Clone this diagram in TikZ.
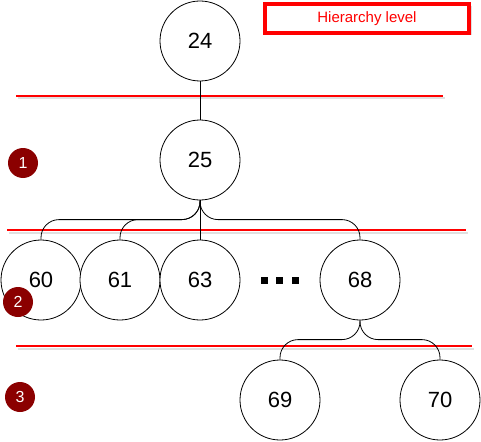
\documentclass[tikz,border=0pt]{standalone}
\usepackage{fontspec}
\setmainfont{Liberation Sans}
\usetikzlibrary{shadows}
\definecolor{levelred}{RGB}{139,0,0}

\begin{document}
\begin{tikzpicture}[
    x=1pt, y=-1pt,
    item/.style={circle, draw, fill=white, line width=0.8pt, minimum size=80pt, inner sep=0pt, font=\fontsize{22}{26}\selectfont},
    badge/.style={circle, fill=levelred, minimum size=30pt, inner sep=0pt, text=white, font=\fontsize{16}{19}\selectfont},
    sq/.style={rectangle, fill=black, minimum size=7pt, inner sep=0pt},
    level/.style={red, line width=1.8pt},
    shade/.style={black!12, line width=2pt},
    link/.style={line width=0.8pt, rounded corners=18pt}
]
\useasboundingbox (0,0) rectangle (481,441);

% Level separators (with shadow)
\foreach \y/\a/\b in {96/16/443, 230/7/466, 346/16/472} {
    \draw[shade] (\a+2,\y+2.5) -- (\b+2,\y+2.5);
    \draw[level] (\a,\y) -- (\b,\y);
}

% Tree nodes
\node[item] (n24) at (200,41) {24};
\node[item] (n25) at (200,160) {25};
\foreach \x/\n in {41/60, 120/61, 200/63, 360/68} {
    \node[item] (n\n) at (\x,280) {\n};
}
\node[item] (n69) at (280,400) {69};
\node[item] (n70) at (440,400) {70};

% Ellipsis between 63 and 68
\foreach \x [count=\i] in {264,279,295} {
    \node[sq] (dot\i) at (\x,280) {};
}

% Links
\draw[link] (n24.south) -- (n25.north);
\draw[link] (n25.south) -- (n63.north);
\foreach \c in {60,61,68} {
    \draw[link] (n25.south) |- ([yshift=20pt]n\c.north) -- (n\c.north);
}
\foreach \c in {69,70} {
    \draw[link] (n68.south) |- ([yshift=20pt]n\c.north) -- (n\c.north);
}

% Level badges
\node[badge] (lv1) at (23,163) {1};
\node[badge] (lv2) at (18,302) {2};
\node[badge] (lv3) at (20,397) {3};

% Legend
\node[draw=red, line width=4.5pt, fill=white, minimum width=204pt, minimum height=29pt,
      text=red, font=\fontsize{15}{18}\selectfont,
      drop shadow={shadow xshift=2.5pt, shadow yshift=-2.5pt, opacity=0.25}] (key) at (367,18.5) {Hierarchy level};

\end{tikzpicture}
\end{document}
